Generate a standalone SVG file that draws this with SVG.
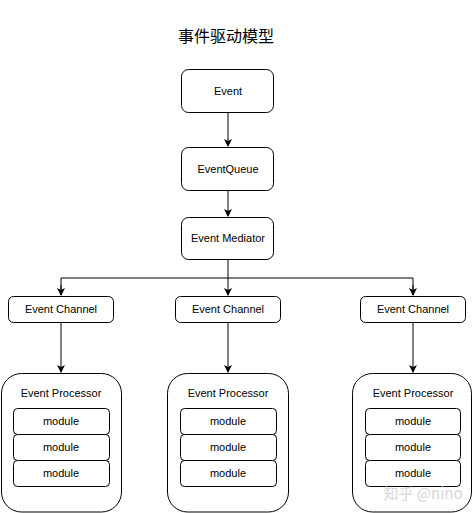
<svg xmlns="http://www.w3.org/2000/svg" width="474" height="513" viewBox="0 0 474 513">
<style>
.box{fill:#fff;stroke:#000;stroke-width:1}
.t{font-family:"Liberation Sans",Arial,sans-serif;font-size:11px;fill:#000;text-anchor:middle;dominant-baseline:central}
.ln{fill:none;stroke:#000;stroke-width:1}
</style>
<defs>
<marker id="ah" markerWidth="8" markerHeight="8" refX="7" refY="4" orient="auto" markerUnits="userSpaceOnUse">
<path d="M0,0 L8,4 L0,8 L2,4 Z" fill="#000"/>
</marker>
</defs>
<rect width="474" height="513" fill="#fff"/>
<text x="226" y="35" style="font-family:'Noto Sans CJK SC',sans-serif;font-size:16px;fill:#000;text-anchor:middle;dominant-baseline:central">事件驱动模型</text>
<g id="connectors">
<line class="ln" x1="228" y1="113" x2="228" y2="146" marker-end="url(#ah)"/>
<line class="ln" x1="228" y1="190" x2="228" y2="216" marker-end="url(#ah)"/>
<line class="ln" x1="228" y1="259" x2="228" y2="295" marker-end="url(#ah)"/>
<polyline class="ln" points="61,295 61,278 413,278 413,295"/>
<line class="ln" x1="61" y1="285" x2="61" y2="295" marker-end="url(#ah)"/>
<line class="ln" x1="413" y1="285" x2="413" y2="295" marker-end="url(#ah)"/>
<line class="ln" x1="61" y1="322" x2="61" y2="372" marker-end="url(#ah)"/>
<line class="ln" x1="228" y1="322" x2="228" y2="372" marker-end="url(#ah)"/>
<line class="ln" x1="413" y1="322" x2="413" y2="372" marker-end="url(#ah)"/>
</g>
<g id="event"><rect class="box" x="181.5" y="69.5" width="92" height="43" rx="7"/><text class="t" x="228" y="91">Event</text></g>
<g id="eventqueue"><rect class="box" x="181.5" y="147.5" width="92" height="43" rx="7"/><text class="t" x="228" y="169">EventQueue</text></g>
<g id="mediator"><rect class="box" x="181.5" y="217.5" width="92" height="42" rx="7"/><text class="t" x="228" y="238">Event Mediator</text></g>
<g id="channel1"><rect class="box" x="8.5" y="296.5" width="105" height="26" rx="5"/><text class="t" x="61" y="309">Event Channel</text></g>
<g id="channel2"><rect class="box" x="175.5" y="296.5" width="105" height="26" rx="5"/><text class="t" x="228" y="309">Event Channel</text></g>
<g id="channel3"><rect class="box" x="360.5" y="296.5" width="105" height="26" rx="5"/><text class="t" x="413" y="309">Event Channel</text></g>
<g id="processor1">
<rect class="box" x="1.5" y="373.5" width="120" height="138.5" rx="20"/>
<text class="t" x="61" y="393">Event Processor</text>
<g id="p1m1"><rect class="box" x="13.5" y="408.5" width="96" height="26" rx="4"/><text class="t" x="61" y="421">module</text></g>
<g id="p1m2"><rect class="box" x="13.5" y="434.5" width="96" height="26" rx="4"/><text class="t" x="61" y="447">module</text></g>
<g id="p1m3"><rect class="box" x="13.5" y="460.5" width="96" height="26" rx="4"/><text class="t" x="61" y="473">module</text></g>
</g>
<g id="processor2">
<rect class="box" x="167.5" y="373.5" width="121" height="138.5" rx="20"/>
<text class="t" x="228" y="393">Event Processor</text>
<g id="p2m1"><rect class="box" x="180.5" y="408.5" width="96" height="26" rx="4"/><text class="t" x="228" y="421">module</text></g>
<g id="p2m2"><rect class="box" x="180.5" y="434.5" width="96" height="26" rx="4"/><text class="t" x="228" y="447">module</text></g>
<g id="p2m3"><rect class="box" x="180.5" y="460.5" width="96" height="26" rx="4"/><text class="t" x="228" y="473">module</text></g>
</g>
<g id="processor3">
<rect class="box" x="352.5" y="373.5" width="119" height="138.5" rx="20"/>
<text class="t" x="413" y="393">Event Processor</text>
<g id="p3m1"><rect class="box" x="365.5" y="408.5" width="95" height="26" rx="4"/><text class="t" x="413" y="421">module</text></g>
<g id="p3m2"><rect class="box" x="365.5" y="434.5" width="95" height="26" rx="4"/><text class="t" x="413" y="447">module</text></g>
<g id="p3m3"><rect class="box" x="365.5" y="460.5" width="95" height="26" rx="4"/><text class="t" x="413" y="473">module</text></g>
</g>
<text x="423" y="492" style="font-family:'Noto Sans CJK SC',sans-serif;font-size:15px;fill:#d6d6d6;text-anchor:middle;dominant-baseline:central">知乎 @nino</text>
</svg>
